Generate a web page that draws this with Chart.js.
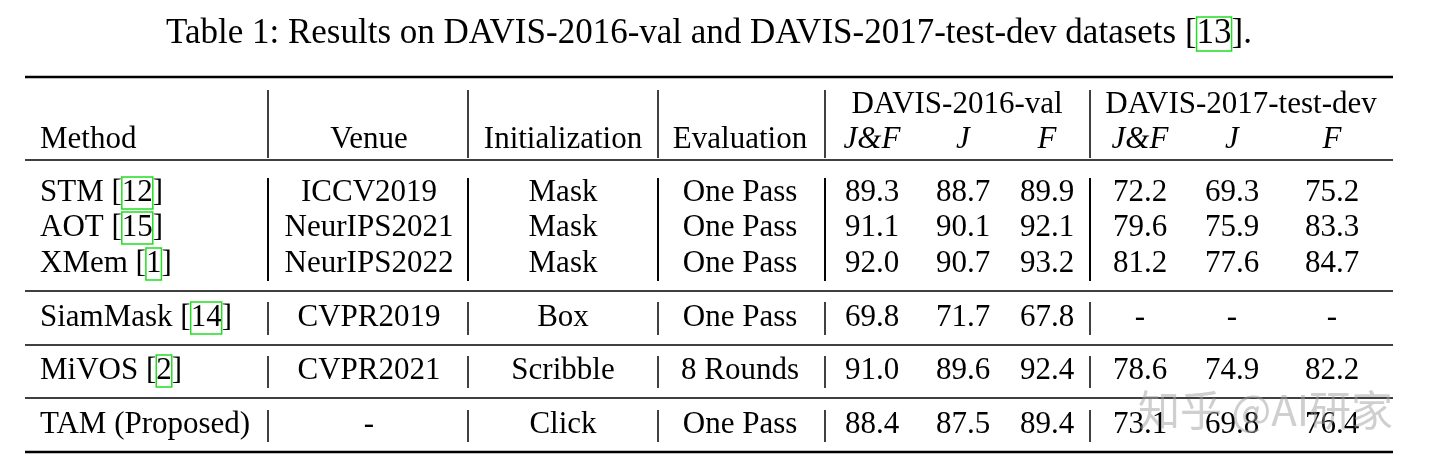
<!DOCTYPE html>
<html>
<head>
<meta charset="utf-8">
<script src="https://cdn.jsdelivr.net/npm/chart.js@4"></script>
<style>
  body { margin: 0; background: #fff; }
  #wrap { width: 1440px; height: 468px; }
</style>
</head>
<body>
<div id="wrap"><canvas id="tableChart"></canvas></div>
<script>
// table content
var title = "Table 1: Results on DAVIS-2016-val and DAVIS-2017-test-dev datasets [13].";
var methods = ["STM", "AOT", "XMem", "SiamMask", "MiVOS", "TAM (Proposed)"];
var cites = ["12", "15", "1", "14", "2", ""];
var venues = ["ICCV2019", "NeurIPS2021", "NeurIPS2022", "CVPR2019", "CVPR2021", "-"];
var inits = ["Mask", "Mask", "Mask", "Box", "Scribble", "Click"];
var evals = ["One Pass", "One Pass", "One Pass", "One Pass", "8 Rounds", "One Pass"];
var d16JF = ["89.3", "91.1", "92.0", "69.8", "91.0", "88.4"];
var d16J  = ["88.7", "90.1", "90.7", "71.7", "89.6", "87.5"];
var d16F  = ["89.9", "92.1", "93.2", "67.8", "92.4", "89.4"];
var d17JF = ["72.2", "79.6", "81.2", "-", "78.6", "73.1"];
var d17J  = ["69.3", "75.9", "77.6", "-", "74.9", "69.8"];
var d17F  = ["75.2", "83.3", "84.7", "-", "82.2", "76.4"];

// layout (pixel positions on a 1440x468 linear scale)
var colX = [40, 369, 563, 740, 872, 963, 1047, 1140, 1232, 1332];
var rowY = [193, 228, 264, 318, 371, 425];
var sepX = [268, 468, 658, 825, 1090];
var rowSpans = [[178, 281], [178, 281], [178, 281], [302, 335], [356, 388], [410, 442]];
var hRules = [[77, 2.5], [160, 1.5], [291, 1.5], [345, 1.5], [398, 1.5], [452, 2.5]];

var SERIF = '"Liberation Serif", "DejaVu Serif", serif';
var BODY = '31px ' + SERIF;

var tablePlugin = {
  id: 'tablePlugin',
  afterDraw: function (chart) {
    var c = chart.ctx;
    var xs = chart.scales.x, ys = chart.scales.y;
    var X = function (v) { return xs.getPixelForValue(v); };
    var Y = function (v) { return ys.getPixelForValue(v); };
    c.save();
    c.fillStyle = '#000';
    c.strokeStyle = '#000';
    c.textBaseline = 'middle';

    // title
    c.font = '35px ' + SERIF;
    c.textAlign = 'left';
    var tpre = "Table 1: Results on DAVIS-2016-val and DAVIS-2017-test-dev datasets [";
    var tw = c.measureText(title).width;
    var tx = X(709) - tw / 2;
    c.fillText(tpre, tx, Y(34));
    var px = tx + c.measureText(tpre).width;
    var nw = c.measureText("13").width;
    c.fillText("13].", px, Y(34));
    c.strokeStyle = '#22dd22'; c.lineWidth = 1.5;
    c.strokeRect(px, Y(34) - 17, nw, 34);
    c.strokeStyle = '#000';

    // horizontal rules
    hRules.forEach(function (r) {
      c.lineWidth = r[1];
      c.beginPath(); c.moveTo(X(25), Y(r[0])); c.lineTo(X(1393), Y(r[0])); c.stroke();
    });

    // vertical separators
    c.lineWidth = 1.5;
    sepX.forEach(function (sx) {
      c.beginPath(); c.moveTo(X(sx), Y(90)); c.lineTo(X(sx), Y(158)); c.stroke();
      rowSpans.forEach(function (s) {
        c.beginPath(); c.moveTo(X(sx), Y(s[0])); c.lineTo(X(sx), Y(s[1])); c.stroke();
      });
    });

    // header
    c.font = BODY;
    c.textAlign = 'left';
    c.fillText("Method", X(colX[0]), Y(140));
    c.textAlign = 'center';
    c.fillText("Venue", X(colX[1]), Y(140));
    c.fillText("Initialization", X(colX[2]), Y(140));
    c.fillText("Evaluation", X(colX[3]), Y(140));
    c.fillText("DAVIS-2016-val", X(957), Y(105));
    c.fillText("DAVIS-2017-test-dev", X(1241), Y(105));
    c.font = 'italic ' + BODY;
    ["J&F", "J", "F", "J&F", "J", "F"].forEach(function (h, i) {
      c.fillText(h, X(colX[4 + i]), Y(140));
    });

    // body rows
    c.font = BODY;
    methods.forEach(function (m, i) {
      var y = Y(rowY[i]);
      c.textAlign = 'left';
      var x0 = X(colX[0]);
      if (cites[i]) {
        var s = m + " [";
        c.fillText(s, x0, y);
        var cx = x0 + c.measureText(s).width;
        var cw = c.measureText(cites[i]).width;
        c.fillText(cites[i] + "]", cx, y);
        c.strokeStyle = '#22dd22'; c.lineWidth = 1.5;
        c.strokeRect(cx, y - 16, cw, 32);
        c.strokeStyle = '#000';
      } else {
        c.fillText(m, x0, y);
      }
      c.textAlign = 'center';
      var vals = [venues[i], inits[i], evals[i], d16JF[i], d16J[i], d16F[i], d17JF[i], d17J[i], d17F[i]];
      vals.forEach(function (v, j) { c.fillText(v, X(colX[j + 1]), y); });
    });

    // watermark
    c.font = '42px "Noto Sans CJK SC", sans-serif';
    c.textAlign = 'left';
    c.fillStyle = 'rgba(160,160,160,0.5)';
    c.fillText("知乎 @AI研家", X(1138), Y(410));
    c.restore();
  }
};

var ctx = document.getElementById('tableChart').getContext('2d');
var tableChart = new Chart(ctx, {
  type: 'scatter',
  data: { datasets: [{ data: [] }] },
  options: {
    responsive: true,
    maintainAspectRatio: false,
    animation: false,
    layout: { padding: 0 },
    plugins: { legend: { display: false }, tooltip: { enabled: false } },
    scales: {
      x: { type: 'linear', min: 0, max: 1440, display: false },
      y: { type: 'linear', min: 0, max: 468, reverse: true, display: false }
    }
  },
  plugins: [tablePlugin]
});
</script>
</body>
</html>
